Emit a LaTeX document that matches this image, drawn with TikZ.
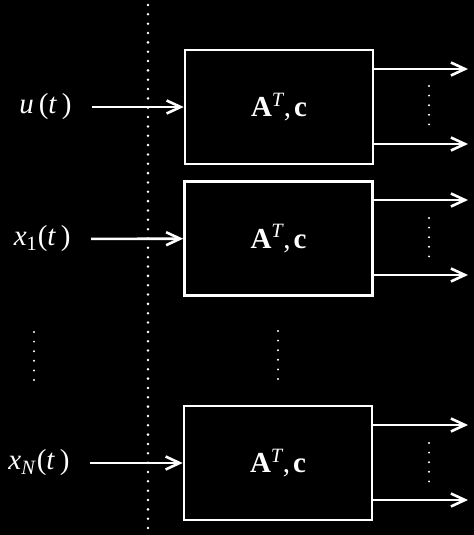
\documentclass[tikz,border=0pt]{standalone}
\usepackage{fontspec}
\setmainfont{Liberation Serif}
\usetikzlibrary{arrows.meta}

\newcommand{\blklabel}{\textbf{A}\textsuperscript{\textit{T}}\kern-0.05em,\kern0.1em\textbf{c}}

\begin{document}
\begin{tikzpicture}[x=0.5pt, y=-0.5pt,
	            blk/.style={
	            draw=white,
	            line width=1.3pt,
	            minimum width=94pt,
	            minimum height=57pt,
	            font=\fontsize{14.5}{17}\selectfont,
	            text=white
	            },
	            sig/.style={
	            text=white,
	            font=\fontsize{14.5}{17}\selectfont,
	            anchor=east,
	            inner xsep=10pt
	            },
	            wire/.style={
	            draw=white,
	            line width=1.3pt,
	            -{Straight Barb[length=7pt,width=6.5pt]}
	            },
	            sep/.style={
	            white,
	            line width=1.4pt,
	            line cap=round,
	            dash pattern=on 0pt off 4.67pt
	            },
	            vdots/.style={
	            white,
	            line width=1.1pt,
	            line cap=round,
	            dash pattern=on 0pt off 4.8pt
	            }]

	        \fill[black] (0,0) rectangle (474,535);
	        \useasboundingbox (0,0) rectangle (474,535);

	        \draw[sep] (148,5) -- (148,528.5);

	        \node[blk] (blk1) at (279,107) {\blklabel};
	        \node[blk] (blk2) at (278.5,238.5) {\blklabel};
	        \node[blk] (blkN) at (278,463) {\blklabel};

	        \node[sig] (inu) at (92,107) {\textit{u}\,(\textit{t}\,)};
	        \node[sig] (in1) at (91,239) {\textit{x}\textsubscript{1}(\textit{t}\,)};
	        \node[sig] (inN) at (90,463) {\textit{x}\textsubscript{\textit{N}}(\textit{t}\,)};

	        \draw[wire] (inu) -- (blk1);
	        \draw[wire] (in1) -- (blk2);
	        \draw[wire] (inN) -- (blkN);

	        \coordinate (o1a) at (468,69);
	        \coordinate (o1b) at (468,144);
	        \coordinate (o2a) at (468,200);
	        \coordinate (o2b) at (468,275);
	        \coordinate (oNa) at (468,425);
	        \coordinate (oNb) at (468,500);

	        \draw[wire] (blk1.east |- o1a) -- (o1a);
	        \draw[wire] (blk1.east |- o1b) -- (o1b);
	        \draw[wire] (blk2.east |- o2a) -- (o2a);
	        \draw[wire] (blk2.east |- o2b) -- (o2b);
	        \draw[wire] (blkN.east |- oNa) -- (oNa);
	        \draw[wire] (blkN.east |- oNb) -- (oNb);

	        \draw[vdots] (429,86) -- (429,125.5);
	        \draw[vdots] (429,218) -- (429,257.5);
	        \draw[vdots] (429,443) -- (429,482.5);

	        \draw[vdots] (34,332) -- (34,389.5);
	        \draw[vdots] (278,331) -- (278,388.5);

	    \end{tikzpicture}
\end{document}
